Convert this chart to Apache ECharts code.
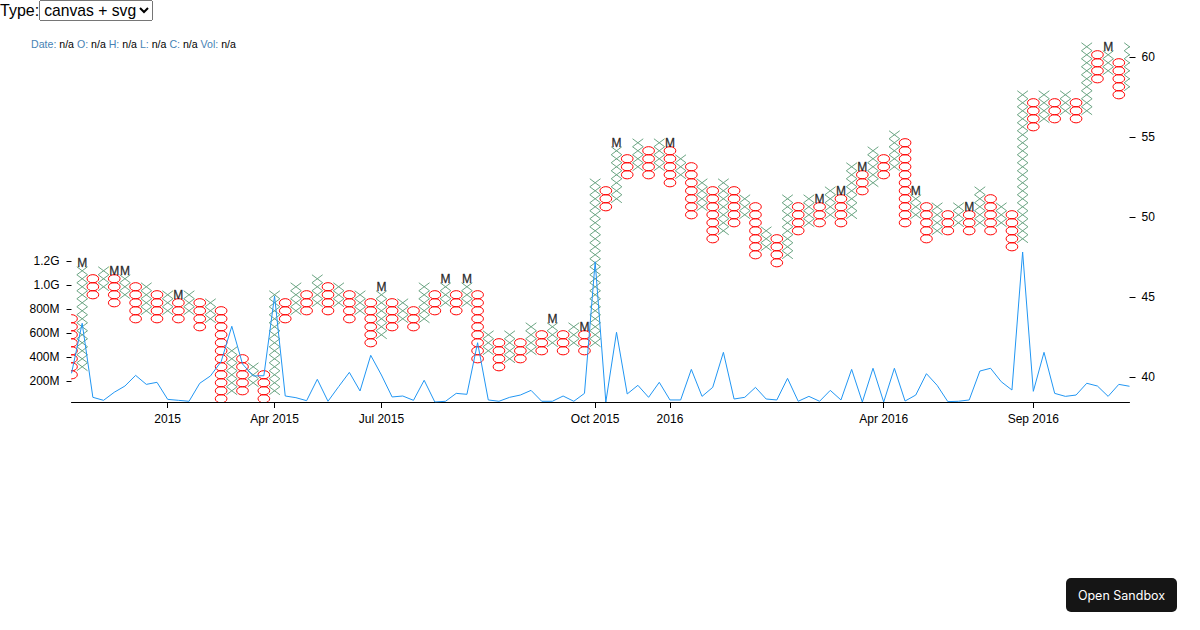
<!DOCTYPE html>
<html>
<head>
<meta charset="utf-8">
<title>Point and figure</title>
<script src="https://cdn.jsdelivr.net/npm/echarts@6/dist/echarts.min.js"></script>
<style>
html, body { margin: 0; padding: 0; background: #fff; overflow: hidden; }
body { font-family: "Liberation Sans", sans-serif; font-size: 16px; color: #000; }
#chart { position: absolute; left: 0; top: 0; width: 1200px; height: 630px; }
#type_row { position: absolute; left: 0; top: 0; z-index: 2; line-height: 21px; }
#type_select { font-family: "Liberation Sans", sans-serif; font-size: 15.7px; height: 21px; width: 114px; }
#open_sandbox {
	position: absolute; left: 1066px; top: 578px; width: 111px; height: 34px; z-index: 2;
	background: #151515; color: #fff; border: 0; border-radius: 5px; padding: 0;
	font-family: Inter, sans-serif; font-size: 12.5px;
}
</style>
</head>
<body>
<div id="type_row">Type:<select id="type_select">
	<option>canvas + svg</option>
	<option>svg</option>
	<option>canvas</option>
</select></div>
<div id="chart"></div>
<button id="open_sandbox">Open Sandbox</button>
<script>
// P&F columns, odd index = X column, even index = O column
var columnHigh = [
	43.64, 46.64, 46.14, 46.64, 46.14, 46.14, 45.64, 45.64, 45.14, 45.14,
	44.64, 45.14, 44.64, 44.64, 44.14, 41.64, 41.14, 40.64, 40.14, 45.14,
	44.64, 45.64, 45.14, 46.14, 45.64, 45.64, 45.14, 45.14, 44.64, 45.14,
	44.64, 44.64, 44.14, 45.64, 45.14, 45.64, 45.14, 45.64, 45.14, 42.64,
	42.14, 42.64, 42.14, 43.14, 42.64, 43.14, 42.64, 43.14, 42.64, 52.14,
	51.64, 54.14, 53.64, 54.64, 54.14, 54.64, 54.14, 53.64, 53.14, 52.14,
	51.64, 52.14, 51.64, 51.14, 50.64, 49.14, 48.64, 51.14, 50.64, 51.14,
	50.64, 51.64, 51.14, 53.14, 52.64, 54.14, 53.64, 55.14, 54.64, 51.14,
	50.64, 50.64, 50.14, 50.64, 50.14, 51.64, 51.14, 50.64, 50.14, 57.64,
	57.14, 57.64, 57.14, 57.64, 57.14, 60.64, 60.14, 60.14, 59.64, 60.64
];
var columnLow = [
	40.14, 40.64, 45.14, 45.64, 44.64, 45.14, 43.64, 44.14, 43.64, 44.14,
	43.64, 44.14, 43.14, 43.64, 38.64, 39.14, 39.14, 39.64, 38.64, 39.14,
	43.64, 44.14, 44.14, 44.64, 44.14, 44.64, 43.64, 44.14, 42.14, 42.64,
	43.14, 43.64, 43.14, 43.64, 44.14, 44.64, 44.14, 44.64, 41.14, 41.64,
	40.64, 41.14, 41.14, 41.64, 41.64, 42.14, 41.64, 42.14, 41.64, 42.14,
	50.64, 51.14, 52.64, 53.14, 52.64, 53.14, 52.14, 52.64, 50.14, 50.64,
	48.64, 49.14, 49.64, 50.14, 47.64, 48.14, 47.14, 47.64, 49.14, 49.64,
	49.64, 50.14, 49.64, 50.14, 51.64, 52.14, 52.64, 53.14, 49.64, 50.14,
	48.64, 49.14, 49.14, 49.64, 49.14, 49.64, 49.14, 49.64, 48.14, 48.64,
	55.64, 56.14, 56.14, 56.64, 56.14, 56.64, 58.64, 59.14, 57.64, 58.14
];
// volume per column, in millions
var columnVolume = [
	264, 681, 64, 39, 106, 158, 247, 172, 189, 47,
	39, 31, 181, 242, 361, 656, 342, 242, 244, 908,
	75, 61, 36, 214, 31, 153, 272, 117, 414, 250,
	67, 75, 39, 206, 25, 31, 97, 89, 519, 42,
	31, 64, 83, 122, 31, 31, 75, 31, 97, 1194,
	25, 606, 92, 164, 64, 189, 42, 42, 297, 72,
	147, 439, 50, 64, 147, 50, 42, 222, 31, 72,
	31, 122, 42, 297, 25, 306, 25, 306, 33, 83,
	261, 164, 28, 31, 42, 283, 306, 194, 125, 1275,
	114, 439, 97, 72, 83, 181, 158, 72, 172, 156
];
// columns that carry an M marker
var markerColumns = [1, 4, 5, 10, 29, 35, 37, 45, 48, 51, 56, 70, 72, 74, 79, 84, 97];

var dateTicks = [9, 19, 29, 49, 56, 76, 90];
var dateLabels = ['2015', 'Apr 2015', 'Jul 2015', 'Oct 2015', '2016', 'Apr 2016', 'Sep 2016'];
var priceTicks = [40, 45, 50, 55, 60];
var volumeTicks = [200, 400, 600, 800, 1000, 1200];
var volumeLabels = ['200M', '400M', '600M', '800M', '1.0G', '1.2G'];
var tooltipLabels = ['Date:', 'O:', 'H:', 'L:', 'C:', 'Vol:'];
var tooltipValue = 'n/a';
var boxSize = 0.5;

var font = '"Liberation Sans", sans-serif';

var columnRows = columnHigh.map(function (high, i) {
	return [i, columnLow[i], high];
});
var volumeRows = columnVolume.map(function (v, i) {
	return [i, v];
});
var markerRows = markerColumns.map(function (i) {
	return [i, columnHigh[i] + boxSize];
});

// 画一列 X 或 O
function renderColumn(isX, params, api) {
	var index = api.value(0);
	if ((index % 2 === 1) !== isX) {
		return null;
	}
	var size = api.size([1, boxSize]);
	var halfW = size[0] / 2;
	var halfH = size[1] / 2;
	var children = [];
	for (var price = api.value(1); price <= api.value(2) + 0.01; price += boxSize) {
		var p = api.coord([index, price]);
		if (isX) {
			children.push({
				type: 'line',
				shape: { x1: p[0] - halfW, y1: p[1] - halfH, x2: p[0] + halfW, y2: p[1] + halfH },
				style: { stroke: '#6BA583', lineWidth: 1, fill: null }
			});
			children.push({
				type: 'line',
				shape: { x1: p[0] + halfW, y1: p[1] - halfH, x2: p[0] - halfW, y2: p[1] + halfH },
				style: { stroke: '#6BA583', lineWidth: 1, fill: null }
			});
		} else {
			children.push({
				type: 'ellipse',
				shape: { cx: p[0], cy: p[1], rx: halfW + 0.5, ry: halfH + 0.1 },
				style: { stroke: '#FF0000', lineWidth: 1, fill: 'none' }
			});
		}
	}
	return { type: 'group', children: children };
}

var tooltipText = tooltipLabels.map(function (label) {
	return '{l|' + label + '} {v|' + tooltipValue + '}';
}).join(' ');

var chart = echarts.init(document.getElementById('chart'), null, { renderer: 'svg' });
chart.setOption({
	animation: false,
	title: {
		left: 31,
		top: 38,
		padding: 0,
		text: tooltipText,
		textStyle: {
			fontWeight: 'normal',
			fontFamily: font,
			fontSize: 10.6,
			rich: {
				l: { color: '#4682B4', fontFamily: font, fontSize: 10.6 },
				v: { color: '#000', fontFamily: font, fontSize: 10.6 }
			}
		}
	},
	grid: { left: 71.5, right: 70.5, top: 30, bottom: 228 },
	xAxis: {
		type: 'value',
		min: 0,
		max: 99,
		splitLine: { show: false },
		axisLine: { onZero: false, lineStyle: { color: '#000', width: 1 } },
		axisTick: { length: 6, customValues: dateTicks, lineStyle: { color: '#000' } },
		axisLabel: {
			customValues: dateTicks,
			margin: 11,
			color: '#000',
			fontFamily: font,
			fontSize: 12,
			formatter: function (v) {
				return dateLabels[dateTicks.indexOf(v)];
			}
		}
	},
	yAxis: [{
		type: 'value',
		position: 'right',
		min: 38.4375,
		max: 61.6875,
		splitLine: { show: false },
		axisLine: { show: false, onZero: false },
		axisTick: { length: 6, customValues: priceTicks, lineStyle: { color: '#000' } },
		axisLabel: { customValues: priceTicks, margin: 12, padding: [3, 0, 0, 0], color: '#000', fontFamily: font, fontSize: 12 }
	}, {
		type: 'value',
		position: 'left',
		min: 25,
		max: 3125,
		splitLine: { show: false },
		axisLine: { show: false, onZero: false },
		axisTick: { length: 5, customValues: volumeTicks, lineStyle: { color: '#000' } },
		axisLabel: {
			customValues: volumeTicks,
			margin: 12,
			padding: [3, 0, 0, 0],
			color: '#000',
			fontFamily: font,
			fontSize: 12,
			formatter: function (v) {
				return volumeLabels[volumeTicks.indexOf(v)];
			}
		}
	}],
	series: [{
		type: 'custom',
		clip: true,
		z: 2,
		data: columnRows,
		encode: { x: 0, y: [1, 2] },
		renderItem: function (params, api) {
			return renderColumn(true, params, api);
		}
	}, {
		type: 'custom',
		clip: true,
		z: 3,
		data: columnRows,
		encode: { x: 0, y: [1, 2] },
		renderItem: function (params, api) {
			return renderColumn(false, params, api);
		}
	}, {
		type: 'line',
		yAxisIndex: 1,
		z: 4,
		data: volumeRows,
		symbol: 'none',
		lineStyle: { color: '#2196F3', width: 1 }
	}, {
		type: 'scatter',
		z: 5,
		data: markerRows,
		symbolSize: 1,
		itemStyle: { color: 'transparent' },
		label: {
			show: true,
			position: 'inside',
			padding: [2, 0, 0, 0],
			formatter: 'M',
			color: '#000',
			textBorderColor: '#000',
			textBorderWidth: 0.3,
			fontFamily: font,
			fontSize: 12
		}
	}]
});
</script>
</body>
</html>
